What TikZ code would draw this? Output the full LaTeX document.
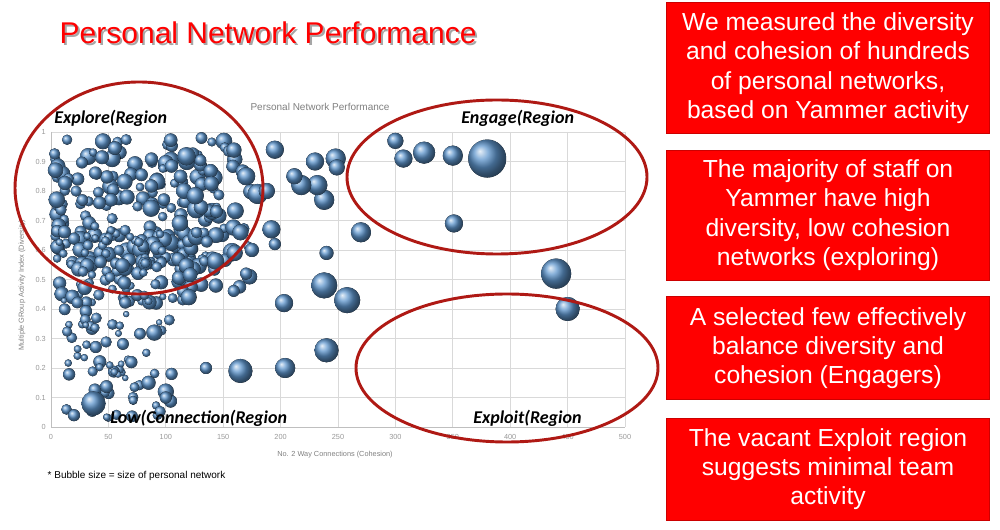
\documentclass[tikz,border=0pt]{standalone}
\usepackage{fontspec}
\setmainfont{Liberation Sans}
\newfontfamily\calfam{Carlito}
\begin{document}
\begin{tikzpicture}[x=0.75pt,y=-0.75pt,
  box/.style={fill=red,draw=red!80!black,text=white,minimum width=323*0.75pt,align=center,font=\fontsize{18.5}{22}\selectfont,inner sep=0pt},
  reg/.style={font=\calfam\bfseries\itshape\fontsize{13.5}{15}\selectfont,inner sep=0pt},
  tick/.style={font=\fontsize{5.5}{6}\selectfont,text=gray!80,inner sep=0pt},
  ell/.style={draw={rgb,255:red,175;green,25;blue,20},line width=2.2pt},
  bub/.style={ball color=bubc,draw=none}]
\definecolor{bubc}{RGB}{95,150,205}
\useasboundingbox (0,0) rectangle (1000,530);
\fill[white] (0,0) rectangle (1000,530);
% grid
\foreach \i in {0,...,10}{
  \draw[gray!30,line width=0.6pt] ({51+\i*57.4},132) -- ({51+\i*57.4},427);
  \draw[gray!30,line width=0.6pt] (51,{427-\i*29.5}) -- (625,{427-\i*29.5});
  \pgfmathtruncatemacro\lab{\i*50}
  \node[tick] (xt\i) at ({51+\i*57.4},437) {\lab};
}
\foreach \i/\l in {0/0,1/0.1,2/0.2,3/0.3,4/0.4,5/0.5,6/0.6,7/0.7,8/0.8,9/0.9,10/1}
  \node[tick,anchor=east] (yt\i) at (46,{427-\i*29.5}) {\l};
\draw[gray!50] (51,132) -- (51,427) -- (625,427);
\node[font=\fontsize{7.5}{8}\selectfont,text=gray] (ct) at (320,107) {Personal Network Performance};
\node[font=\fontsize{5.5}{6}\selectfont,text=gray] (xl) at (335,455) {No. 2 Way Connections (Cohesion)};
\node[font=\fontsize{5.5}{6}\selectfont,text=gray,rotate=90] (yl) at (22,285) {Multiple GRoup Activity Index (Diversity)};
\node[font=\fontsize{7.5}{8}\selectfont,anchor=west] (fn) at (43,476) {* Bubble size = size of personal network};
% bubbles
\pgfmathsetseed{11}
\foreach \k in {1,...,170}{
  \pgfmathsetmacro\vx{3+150*rnd}\pgfmathsetmacro\vy{0.55+0.43*rnd}\pgfmathsetmacro\r{4+4.5*rnd}
  \fill[bub] ({51+\vx*1.148},{427-\vy*295}) circle[radius=\r];}
\foreach \k in {1,...,90}{
  \pgfmathsetmacro\vx{3+120*rnd}\pgfmathsetmacro\vy{0.42+0.25*rnd}\pgfmathsetmacro\r{3.5+4*rnd}
  \fill[bub] ({51+\vx*1.148},{427-\vy*295}) circle[radius=\r];}
\foreach \k in {1,...,70}{
  \pgfmathsetmacro\vx{8+100*rnd}\pgfmathsetmacro\vy{0.03+0.42*rnd}\pgfmathsetmacro\r{3+3.5*rnd}
  \fill[bub] ({51+\vx*1.148},{427-\vy*295}) circle[radius=\r];}
\foreach \k in {1,...,45}{
  \pgfmathsetmacro\vx{110+65*rnd}\pgfmathsetmacro\vy{0.45+0.52*rnd}\pgfmathsetmacro\r{4.5+5*rnd}
  \fill[bub] ({51+\vx*1.148},{427-\vy*295}) circle[radius=\r];}
\foreach \vx/\vy/\r in {380/0.91/19,350/0.92/10,325/0.93/11,307/0.91/9,300/0.97/8,351/0.69/9,440/0.52/15,450/0.40/12,
  238/0.48/13,258/0.43/13,240/0.26/12,165/0.19/12,204/0.20/10,203/0.42/9,240/0.59/7,270/0.66/10,238/0.77/10,
  232/0.82/10,218/0.82/10,212/0.85/8,248/0.91/10,249/0.88/8,195/0.94/9,230/0.90/9,192/0.67/9,195/0.62/6,
  170/0.52/6,160/0.59/8,175/0.60/7,180/0.79/10,170/0.85/9,188/0.80/8,165/0.66/8,135/0.20/6,105/0.18/6,
  100/0.12/8,100/0.10/6,37/0.08/12,20/0.04/6,115/0.46/6,120/0.44/8,90/0.32/8,70/0.22/6,85/0.15/7}
  \fill[bub] ({51+\vx*1.148},{427-\vy*295}) circle[radius=\r];
% ellipses
\draw[ell] (139,188) ellipse[x radius=124,y radius=106];
\draw[ell] (497,177) ellipse[x radius=150,y radius=77];
\draw[ell] (507,368) ellipse[x radius=151,y radius=74];
\node[reg,anchor=west] (r1) at (54,118) {Explore(Region};
\node[reg,anchor=west] (r2) at (461,118) {Engage(Region};
\node[reg,anchor=west] (r3) at (110,418) {Low(Connection(Region};
\node[reg,anchor=west] (r4) at (473,418) {Exploit(Region};
% title
\node[font=\fontsize{22.5}{26}\selectfont,text=gray!70,anchor=west] at (57,35) {Personal Network Performance};
\node[font=\fontsize{22.5}{26}\selectfont,text=red,anchor=west] (title) at (55,33) {Personal Network Performance};
% boxes
\node[box,minimum height=131*0.75pt] (b1) at (828,68) {We measured the diversity\\and cohesion of hundreds\\of personal networks,\\based on Yammer activity};
\node[box,minimum height=130*0.75pt] (b2) at (828,215) {The majority of staff on\\Yammer have high\\diversity, low cohesion\\networks (exploring)};
\node[box,minimum height=103*0.75pt] (b3) at (828,348) {A selected few effectively\\balance diversity and\\cohesion (Engagers)};
\node[box,minimum height=102*0.75pt] (b4) at (828,469) {The vacant Exploit region\\suggests minimal team\\activity};
\end{tikzpicture}
\end{document}
